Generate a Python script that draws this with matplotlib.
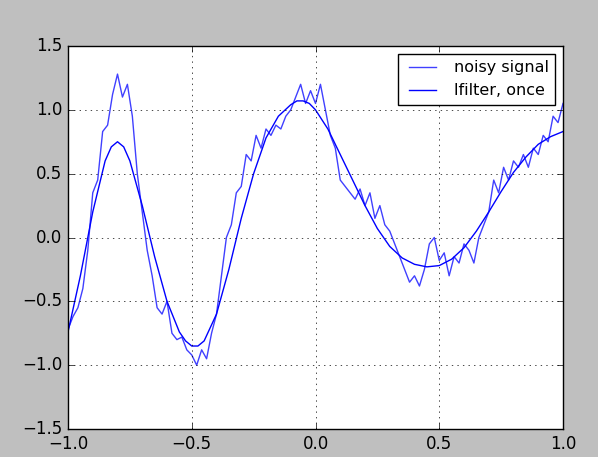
import matplotlib
matplotlib.use("Agg")
import matplotlib.pyplot as plt
import numpy as np

plt.style.use('classic')

t_smooth = [-1.00, -0.95, -0.90, -0.85, -0.825, -0.80, -0.775, -0.75, -0.70, -0.65, -0.60,
            -0.55, -0.525, -0.50, -0.475, -0.45, -0.40, -0.35, -0.30, -0.25, -0.20,
            -0.15, -0.10, -0.075, -0.05, -0.025, 0.00, 0.05, 0.10, 0.15, 0.20, 0.25,
            0.30, 0.35, 0.40, 0.45, 0.50, 0.55, 0.60, 0.65, 0.70, 0.75, 0.80,
            0.85, 0.90, 0.95, 1.00]
y_smooth = [-0.74, -0.30, 0.20, 0.60, 0.71, 0.75, 0.71, 0.60, 0.25, -0.15, -0.50,
            -0.74, -0.81, -0.85, -0.85, -0.81, -0.60, -0.25, 0.15, 0.50, 0.78,
            0.95, 1.04, 1.07, 1.07, 1.05, 1.00, 0.85, 0.65, 0.45, 0.25, 0.07,
            -0.07, -0.16, -0.21, -0.23, -0.22, -0.17, -0.08, 0.05, 0.20, 0.36, 0.51,
            0.63, 0.73, 0.79, 0.83]

t_noisy = np.round(np.arange(-1.0, 1.0001, 0.02), 2)
y_noisy = [-0.72, -0.62, -0.55, -0.40, -0.10, 0.35, 0.45, 0.83, 0.88, 1.12,
           1.28, 1.10, 1.20, 0.95, 0.50, 0.20, -0.10, -0.30, -0.55, -0.60,
           -0.50, -0.75, -0.80, -0.78, -0.88, -0.92, -1.00, -0.88, -0.95, -0.75,
           -0.60, -0.30, 0.00, 0.10, 0.35, 0.40, 0.65, 0.60, 0.80, 0.70,
           0.85, 0.80, 0.88, 0.85, 0.95, 1.00, 1.10, 1.20, 1.05, 1.15,
           1.05, 1.20, 1.00, 0.80, 0.70, 0.45, 0.40, 0.35, 0.30, 0.38,
           0.25, 0.35, 0.15, 0.25, 0.10, 0.05, -0.05, -0.15, -0.25, -0.35,
           -0.30, -0.38, -0.25, -0.05, 0.00, -0.18, -0.12, -0.30, -0.15, -0.20,
           -0.05, -0.10, -0.20, 0.00, 0.10, 0.20, 0.45, 0.35, 0.55, 0.45,
           0.60, 0.55, 0.65, 0.55, 0.70, 0.65, 0.80, 0.75, 0.95, 0.90, 1.05]

fig = plt.figure(figsize=(5.98, 4.57), dpi=100, facecolor='#bfbfbf')
ax = fig.add_axes([68/598, 1-429/457, (563-68)/598, (429-46)/457])
ax.plot(t_noisy, y_noisy, 'b', alpha=0.75, label='noisy signal')
ax.plot(t_smooth, y_smooth, 'b', label='lfilter, once')
ax.set_xlim(-1, 1)
ax.set_ylim(-1.5, 1.5)
ax.grid(True)
ax.legend(loc='upper right', fontsize=11.5, handlelength=2.3)
fig.savefig('out.png', dpi=100, facecolor='#bfbfbf')
